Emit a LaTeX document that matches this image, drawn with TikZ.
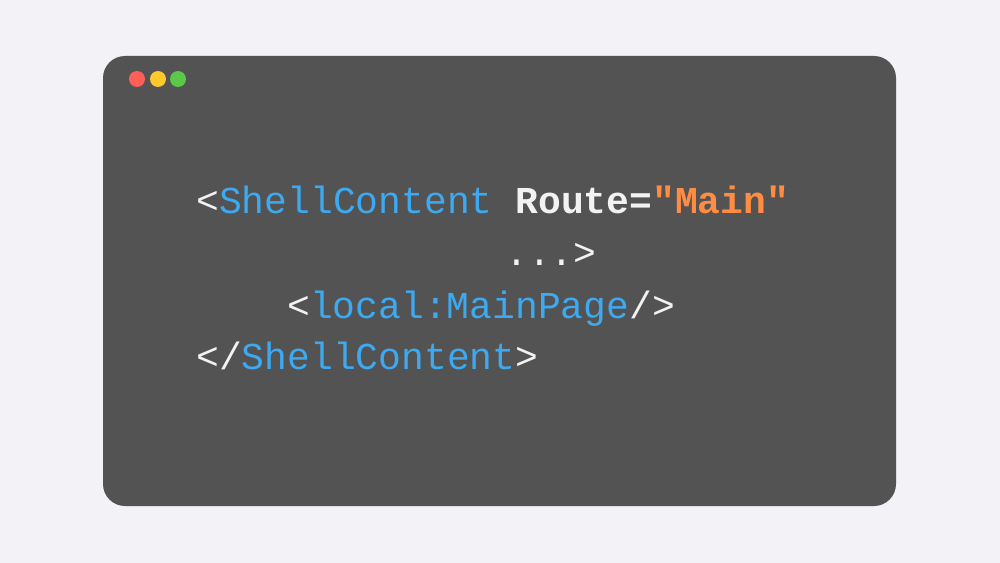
\documentclass[tikz,border=0pt]{standalone}
\usepackage{fontspec}
\setmonofont{Liberation Mono}
\definecolor{bg}{HTML}{F2F2F7}
\definecolor{win}{HTML}{535353}
\definecolor{kw}{HTML}{3DA9F0}
\definecolor{tx}{HTML}{F2F2F2}
\definecolor{str}{HTML}{FF8C42}
\definecolor{dr}{HTML}{FF5F57}
\definecolor{dy}{HTML}{FEC92E}
\definecolor{dg}{HTML}{5CC84A}
\begin{document}
\begin{tikzpicture}[x=0.75pt,y=-0.75pt,
  code/.style={anchor=base west,inner sep=0,font=\ttfamily\fontsize{28.5}{34}\selectfont,text=tx},
  dot/.style={circle,minimum size=12pt,inner sep=0}]
\fill[bg] (0,0) rectangle (1000,563);
\useasboundingbox (0,0) rectangle (1000,563);
\fill[win,rounded corners=16.5pt] (103,56) rectangle (896,506);
\node[dot,fill=dr] (d1) at (137,79) {};
\node[dot,fill=dy] (d2) at (158,79) {};
\node[dot,fill=dg] (d3) at (178,79) {};
\node[code] (l1) at (196,214) {<\textcolor{kw}{ShellContent} \textbf{Route=\textcolor{str}{"Main"}}};
\node[code] (l2) at (505,266) {...>};
\node[code] (l3) at (287,318) {<\textcolor{kw}{local:MainPage}/>};
\node[code] (l4) at (196,369) {</\textcolor{kw}{ShellContent}>};
\end{tikzpicture}
\end{document}
